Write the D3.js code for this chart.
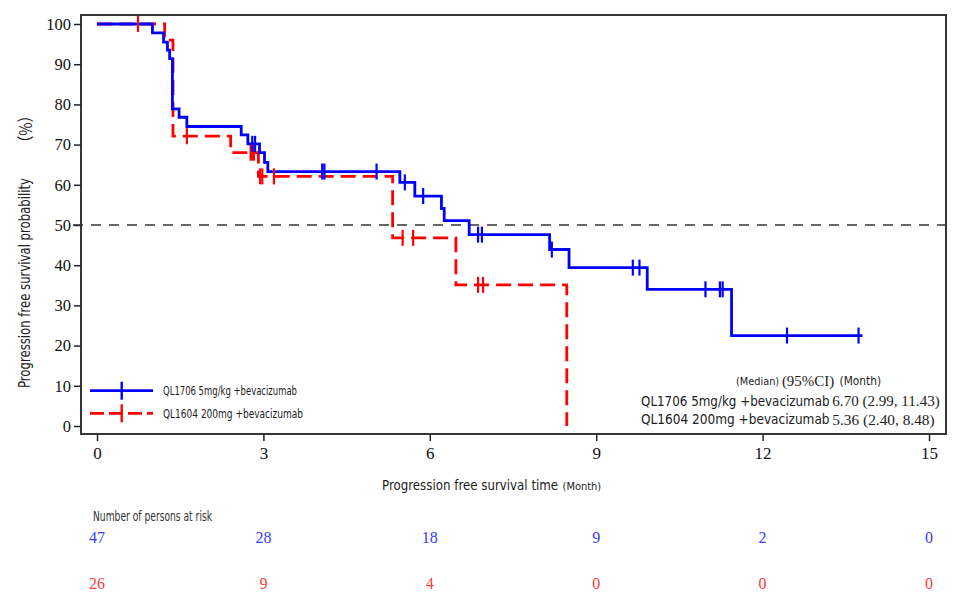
<!DOCTYPE html>
<html>
<head>
<meta charset="utf-8">
<script src="https://cdn.jsdelivr.net/npm/d3@7/dist/d3.min.js"></script>
<style>
  html, body { margin: 0; padding: 0; background: #fff; }
  svg { display: block; }
  .serif { font-family: "Liberation Serif", "DejaVu Serif", serif; }
  .narrow { font-family: "Liberation Sans Narrow", "DejaVu Sans Condensed", "Liberation Sans", sans-serif; }
</style>
</head>
<body>
<svg id="chart" width="960" height="611"></svg>
<script>
// ---------------- DATA ----------------
const seriesNames = ["QL1706 5mg/kg +bevacizumab", "QL1604 200mg +bevacizumab"];
const seriesColors = ["#0000ff", "#ff0000"];

// step points [time (month), survival (%)]
const blueSteps = [
  [0, 100], [1.00, 97.8], [1.20, 95.5], [1.27, 93.5], [1.31, 91.4], [1.36, 78.9],
  [1.48, 76.8], [1.62, 74.5], [2.60, 72.4], [2.72, 70.2], [2.93, 68.0], [3.02, 65.6],
  [3.08, 63.3], [5.46, 60.6], [5.73, 57.2], [6.21, 54.1], [6.26, 51.1], [6.71, 47.6],
  [8.16, 43.9], [8.51, 39.4], [9.92, 34.0], [11.44, 22.5], [13.80, 22.5]
];
const blueCensor = [
  [2.80, 70.2], [2.85, 70.2], [4.06, 63.3], [4.10, 63.3], [5.04, 63.3], [5.55, 60.6],
  [5.88, 57.2], [6.87, 47.6], [6.94, 47.6], [8.20, 43.9], [9.66, 39.4], [9.78, 39.4],
  [10.97, 34.0], [11.23, 34.0], [11.28, 34.0], [12.44, 22.5], [13.73, 22.5]
];

const redSteps = [
  [0, 100], [1.22, 96.0], [1.37, 72.1], [2.41, 68.0], [2.91, 62.1], [5.33, 46.8],
  [6.47, 35.1], [8.47, 0]
];
const redCensor = [
  [0.74, 100], [1.62, 72.1], [2.77, 68.0], [2.80, 68.0], [2.83, 68.0], [2.94, 62.1],
  [2.98, 62.1], [3.19, 62.1], [5.51, 46.8], [5.70, 46.8], [6.87, 35.1], [6.96, 35.1]
];

const xTicks = [0, 3, 6, 9, 12, 15];
const yTicks = [0, 10, 20, 30, 40, 50, 60, 70, 80, 90, 100];
const medianLine = 50;

const riskTimes = [0, 3, 6, 9, 12, 15];
const riskBlue = [47, 28, 18, 9, 2, 0];
const riskRed = [26, 9, 4, 0, 0, 0];

const medianHeader = ["(Median)", "(95%CI)", "(Month)"];
const medianValues = ["6.70 (2.99, 11.43)", "5.36 (2.40, 8.48)"];

const xTitle = ["Progression free survival time", "(Month)"];
const yTitle = ["Progression free survival probability", "（%）"];
const riskTitle = "Number of persons at risk";

// ---------------- DRAW ----------------
const svg = d3.select("#chart");
const frame = { left: 81, top: 15, right: 946, bottom: 434 };

const x = d3.scaleLinear().domain([0, 15]).range([97, 929]);
const y = d3.scaleLinear().domain([0, 100]).range([426, 24]);

// scale all tspans of a one-line text so that the whole line has the wanted width
function fitLine(textSel, target) {
  const w = textSel.node().getComputedTextLength();
  if (!w) return;
  const k = Math.max(0.75, Math.min(1.25, target / w));
  textSel.selectAll("tspan").each(function () {
    const t = d3.select(this);
    t.attr("font-size", (+t.attr("font-size") * k).toFixed(2));
    if (t.attr("dx")) t.attr("dx", (+t.attr("dx") * k).toFixed(2));
  });
}

// frame
svg.append("rect")
  .attr("x", frame.left).attr("y", frame.top)
  .attr("width", frame.right - frame.left).attr("height", frame.bottom - frame.top)
  .attr("fill", "none").attr("stroke", "#222").attr("stroke-width", 1.8);

// x axis
const xAxis = svg.append("g")
  .attr("transform", `translate(0,${frame.bottom})`)
  .call(d3.axisBottom(x).tickValues(xTicks).tickSize(7).tickPadding(6).tickFormat(d3.format("d")));
xAxis.select(".domain").remove();
xAxis.selectAll(".tick line").attr("stroke", "#222").attr("stroke-width", 1.5);
xAxis.selectAll(".tick text").attr("class", "serif").attr("font-size", 17).attr("fill", "#111");

// y axis
const yAxis = svg.append("g")
  .attr("transform", `translate(${frame.left},0)`)
  .call(d3.axisLeft(y).tickValues(yTicks).tickSize(7).tickPadding(3).tickFormat(d3.format("d")));
yAxis.select(".domain").remove();
yAxis.selectAll(".tick line").attr("stroke", "#222").attr("stroke-width", 1.5);
yAxis.selectAll(".tick text").attr("class", "serif").attr("font-size", 16.5).attr("fill", "#111");

// median 50% dashed line
svg.append("line")
  .attr("x1", 73).attr("x2", frame.right)
  .attr("y1", y(medianLine)).attr("y2", y(medianLine))
  .attr("stroke", "#333").attr("stroke-width", 1.6)
  .attr("stroke-dasharray", "10,8");

// curves
const line = d3.line().x(d => x(d[0])).y(d => y(d[1])).curve(d3.curveStepAfter);
const plot = svg.append("g");

plot.append("path").datum(redSteps)
  .attr("d", line).attr("fill", "none")
  .attr("stroke", seriesColors[1]).attr("stroke-width", 2.8)
  .attr("stroke-dasharray", "15,7");

plot.append("path").datum(blueSteps)
  .attr("d", line).attr("fill", "none")
  .attr("stroke", seriesColors[0]).attr("stroke-width", 2.8);

function censor(data, color) {
  plot.selectAll(null).data(data).enter().append("line")
    .attr("x1", d => x(d[0])).attr("x2", d => x(d[0]))
    .attr("y1", d => y(d[1]) - 8).attr("y2", d => y(d[1]) + 8)
    .attr("stroke", color).attr("stroke-width", 2.2);
}
censor(redCensor, seriesColors[1]);
censor(blueCensor, seriesColors[0]);

// legend
const legend = svg.append("g");
const legY = [390.7, 413.3];
[0, 1].forEach(i => {
  legend.append("line")
    .attr("x1", 90).attr("x2", 153).attr("y1", legY[i]).attr("y2", legY[i])
    .attr("stroke", seriesColors[i]).attr("stroke-width", 2.8)
    .attr("stroke-dasharray", i === 1 ? "14,5" : null);
  legend.append("line")
    .attr("x1", 121.7).attr("x2", 121.7).attr("y1", legY[i] - 9).attr("y2", legY[i] + 9)
    .attr("stroke", seriesColors[i]).attr("stroke-width", 2.4);
  legend.append("text").attr("class", "narrow")
    .attr("x", 163).attr("y", legY[i] + 4.5)
    .attr("font-size", 12.5).attr("fill", "#222")
    .attr("textLength", i === 0 ? 134 : 140).attr("lengthAdjust", "spacingAndGlyphs")
    .text(seriesNames[i]);
});

// median annotation (each row is one text element, tspans flow naturally)
const ann = svg.append("g").attr("fill", "#222");
const hdr = ann.append("text").attr("x", 736).attr("y", 385);
hdr.append("tspan").attr("class", "narrow").attr("font-size", 12).text(medianHeader[0]);
hdr.append("tspan").attr("class", "serif").attr("dx", 3).attr("dy", 1).attr("font-size", 16.5).text(medianHeader[1]);
hdr.append("tspan").attr("class", "narrow").attr("dx", 6).attr("dy", -1).attr("font-size", 13).text(medianHeader[2]);
fitLine(hdr, 137);

const annY = [405.5, 424];
const annW = [296, 291];
[0, 1].forEach(i => {
  const row = ann.append("text").attr("x", 641).attr("y", annY[i]);
  row.append("tspan").attr("class", "narrow").attr("font-size", 14.5).text(seriesNames[i]);
  row.append("tspan").attr("class", "serif").attr("dx", 3).attr("dy", 0.5).attr("font-size", 16.5).text(medianValues[i]);
  fitLine(row, annW[i]);
});

// x title
const xt = svg.append("text").attr("x", 382).attr("y", 490).attr("fill", "#222");
xt.append("tspan").attr("class", "narrow").attr("font-size", 15).text(xTitle[0]);
xt.append("tspan").attr("class", "narrow").attr("dx", 5).attr("font-size", 12.5).text(xTitle[1]);
fitLine(xt, 215);

// y title (rotated)
const yt = svg.append("g").attr("transform", "translate(30,0) rotate(-90)");
yt.append("text").attr("class", "narrow").attr("x", -388).attr("y", 0)
  .attr("font-size", 15).attr("fill", "#222")
  .attr("textLength", 210).attr("lengthAdjust", "spacingAndGlyphs").text(yTitle[0]);
yt.append("text").attr("x", -150).attr("y", 1.5)
  .attr("font-family", "'Noto Sans CJK SC', 'Liberation Serif', serif")
  .attr("font-size", 17).attr("fill", "#222")
  .attr("textLength", 42).attr("lengthAdjust", "spacingAndGlyphs").text(yTitle[1]);

// risk table
svg.append("text").attr("class", "narrow").attr("x", 93).attr("y", 521)
  .attr("font-size", 14.5).attr("fill", "#333")
  .attr("textLength", 119).attr("lengthAdjust", "spacingAndGlyphs").text(riskTitle);

svg.append("g").selectAll("text").data(riskBlue).enter().append("text")
  .attr("class", "serif").attr("text-anchor", "middle")
  .attr("x", (d, i) => x(riskTimes[i])).attr("y", 543)
  .attr("font-size", 16).attr("fill", "#3a3aff").text(d => d);

svg.append("g").selectAll("text").data(riskRed).enter().append("text")
  .attr("class", "serif").attr("text-anchor", "middle")
  .attr("x", (d, i) => x(riskTimes[i])).attr("y", 588.5)
  .attr("font-size", 16).attr("fill", "#ff3a3a").text(d => d);
</script>
</body>
</html>
